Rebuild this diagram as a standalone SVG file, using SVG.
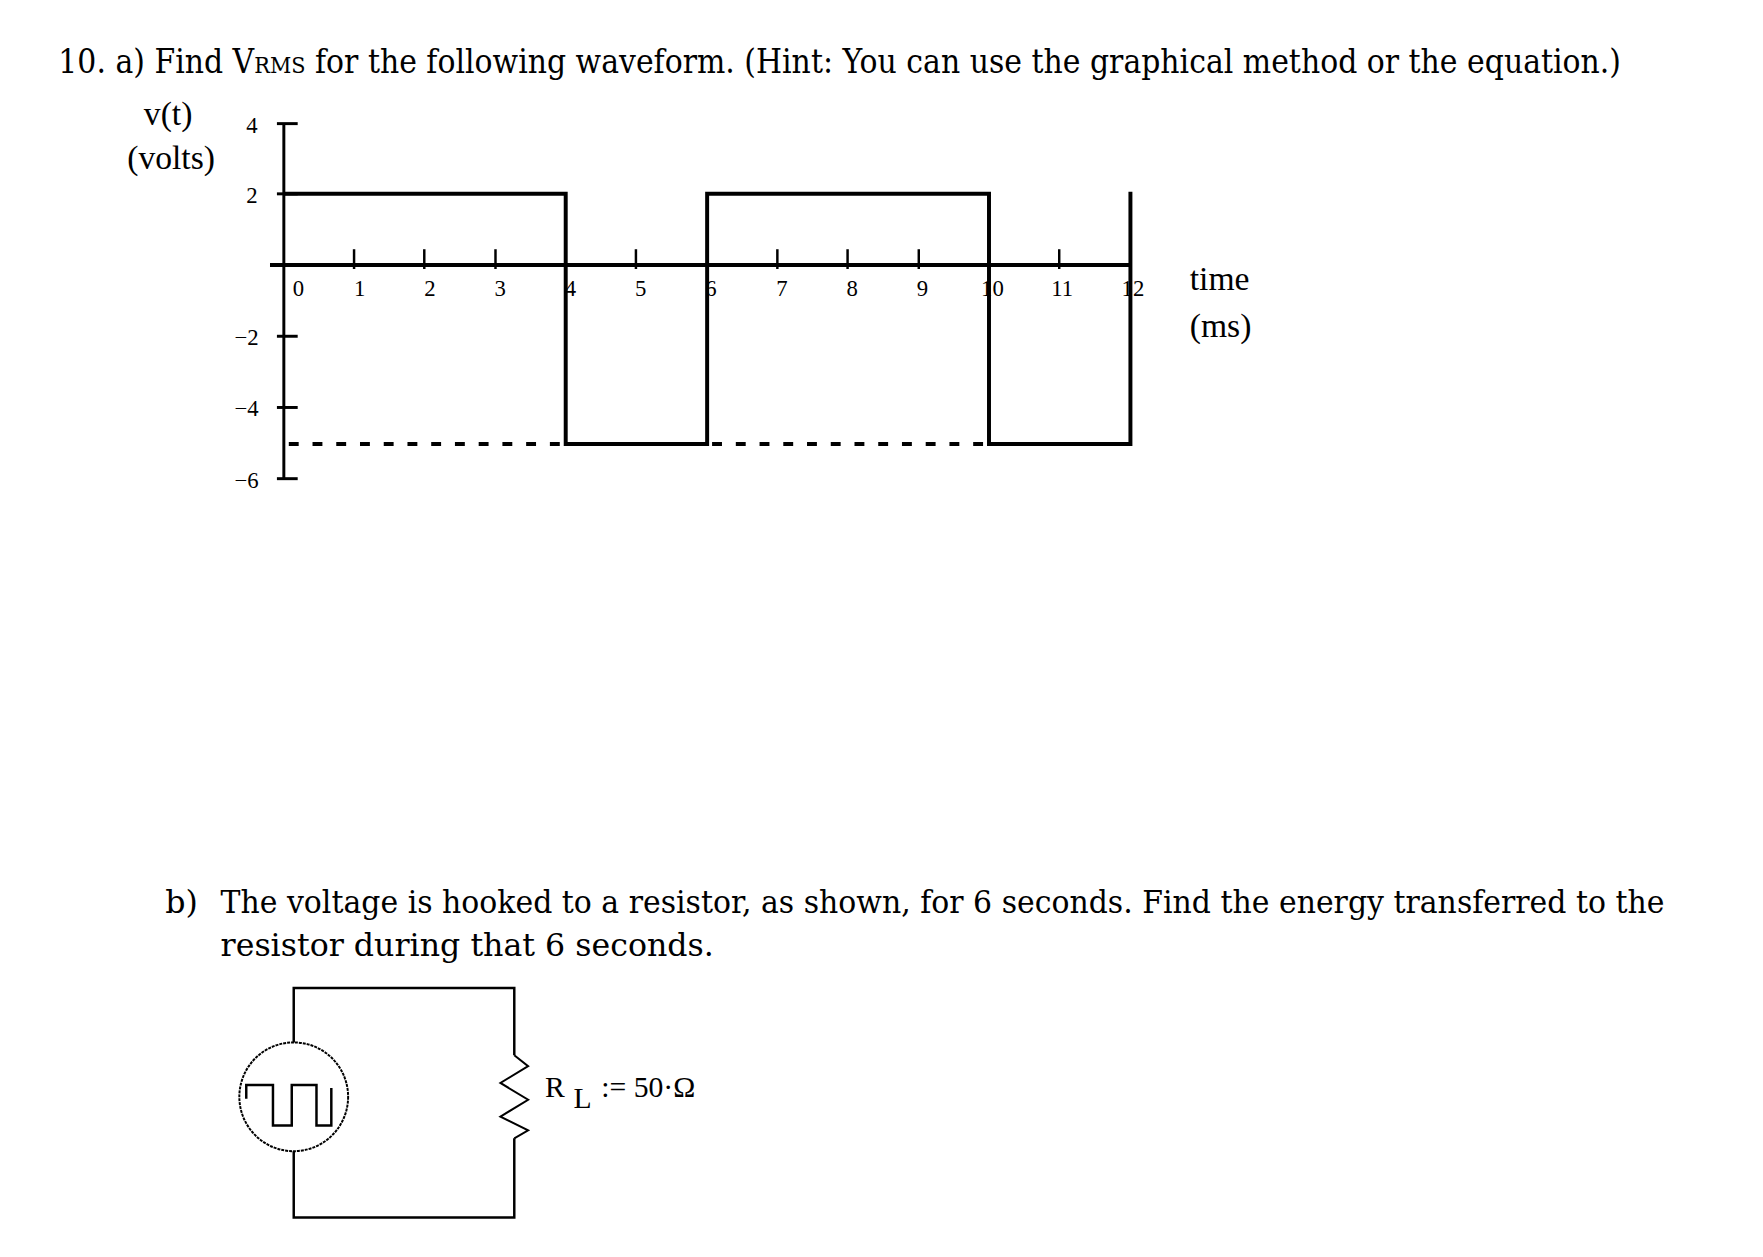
<svg xmlns="http://www.w3.org/2000/svg" width="1763" height="1257" viewBox="0 0 1763 1257">
<style>
.t{font-family:"DejaVu Serif","Liberation Serif",serif;fill:#000}
.s{font-family:"Liberation Serif",serif;fill:#000}
.w{stroke:#000;fill:none}
</style>
<rect width="1763" height="1257" fill="#fff"/>
<g transform="scale(0.989)">
<g id="title"><text class="t" x="59" y="74" font-size="33" textLength="1580" lengthAdjust="spacingAndGlyphs">10. a) Find V<tspan font-size="23">RMS</tspan> for the following waveform. (Hint: You can use the graphical method or the equation.)</text></g>
<g id="ylabel" class="s" font-size="34" text-anchor="middle"><text x="170" y="126">v(t)</text><text x="173" y="171">(volts)</text></g>
<g id="xlabel" class="s" font-size="34"><text x="1203" y="293">time</text><text x="1203" y="341">(ms)</text></g>
<g id="axes" class="w">
<line x1="287" y1="125" x2="287" y2="484" stroke-width="3"/>
<line x1="273" y1="268" x2="1143" y2="268" stroke-width="4"/>
<g stroke-width="3"><line x1="280" y1="125" x2="301" y2="125"/><line x1="280" y1="196" x2="301" y2="196"/><line x1="280" y1="340" x2="301" y2="340"/><line x1="280" y1="412" x2="301" y2="412"/><line x1="280" y1="484" x2="301" y2="484"/></g>
<g stroke-width="2.5"><line x1="358" y1="252" x2="358" y2="272"/><line x1="429" y1="252" x2="429" y2="272"/><line x1="501" y1="252" x2="501" y2="272"/><line x1="572" y1="252" x2="572" y2="272"/><line x1="643" y1="252" x2="643" y2="272"/><line x1="715" y1="252" x2="715" y2="272"/><line x1="786" y1="252" x2="786" y2="272"/><line x1="857" y1="252" x2="857" y2="272"/><line x1="929" y1="252" x2="929" y2="272"/><line x1="1000" y1="252" x2="1000" y2="272"/><line x1="1071" y1="252" x2="1071" y2="272"/></g>
</g>
<g id="ticklabels" class="s" font-size="23">
<text x="249" y="134">4</text><text x="249" y="205">2</text><text x="237" y="349">−2</text><text x="237" y="421">−4</text><text x="237" y="493">−6</text>
<text x="296" y="299">0</text><text x="358" y="299">1</text><text x="429" y="299">2</text><text x="500" y="299">3</text><text x="571" y="299">4</text><text x="642" y="299">5</text><text x="713" y="299">6</text><text x="785" y="299">7</text><text x="856" y="299">8</text><text x="927" y="299">9</text><text x="992" y="299">10</text><text x="1063" y="299">11</text><text x="1134" y="299">12</text>
</g>
<g id="waveform" class="w">
<polyline points="287,196 572,196 572,449 715,449 715,196 1000,196 1000,449 1143,449 1143,194" stroke-width="4"/>
<line x1="292" y1="449" x2="572" y2="449" stroke-width="4" stroke-dasharray="10,14"/>
<line x1="720" y1="449" x2="1000" y2="449" stroke-width="4" stroke-dasharray="10,14"/>
</g>
<g id="partb" class="t" font-size="32"><text x="167" y="923">b)</text><text x="223" y="923" textLength="1460" lengthAdjust="spacingAndGlyphs">The voltage is hooked to a resistor, as shown, for 6 seconds.  Find the energy transferred to the</text><text x="223" y="967">resistor during that 6 seconds.</text></g>
<g id="connectors" class="w" stroke-width="2.5">
<polyline points="297,1054 297,999 520,999 520,1067"/>
<polyline points="520,1151 520,1231 297,1231 297,1164"/>
</g>
<g id="source" class="w" stroke-width="2">
<circle cx="297" cy="1109" r="55" stroke-dasharray="3,1"/>
<polyline points="249,1111 249,1097 276,1097 276,1138 295,1138 295,1097 320,1097 320,1138 335,1138 335,1100" stroke-width="2.5"/>
</g>
<g id="resistor" class="w" stroke-width="2">
<polyline points="520,1067 534,1078 506,1095 534,1112 506,1129 534,1143 520,1151"/>
</g>
<g id="rlabel" class="s" font-size="30"><text x="551" y="1109">R</text><text x="580" y="1120">L</text><text x="608" y="1109">:= 50·Ω</text></g>
</g>
</svg>
